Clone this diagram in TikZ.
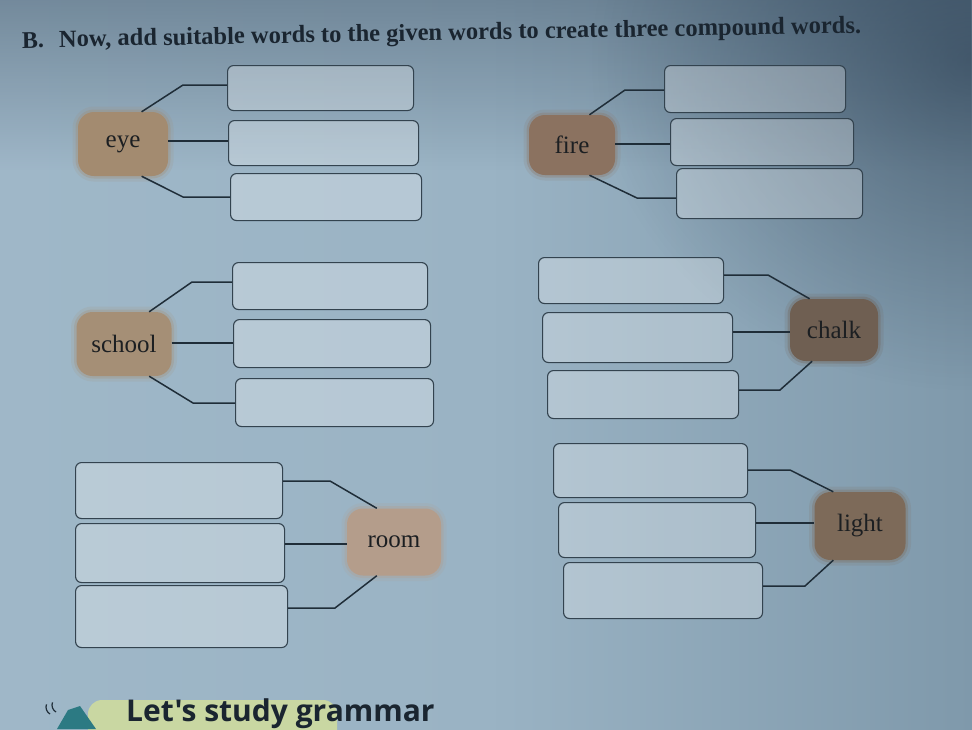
\documentclass[tikz,border=0pt]{standalone}
\usepackage{fontspec}
\setmainfont{Liberation Serif}
\newfontfamily\bannerfont{Open Sans}
\usetikzlibrary{fadings}
\definecolor{linec}{HTML}{1F2D38}
\definecolor{boxline}{HTML}{33434F}
\definecolor{titlec}{HTML}{1A2530}
\definecolor{wordtext}{HTML}{1C1F22}
\definecolor{bgA}{HTML}{A4BCCC}
\definecolor{bgB}{HTML}{9AB3C4}
\definecolor{bgC}{HTML}{7E98AA}
\definecolor{bgD}{HTML}{566F82}
\definecolor{darkc}{HTML}{23364A}
\definecolor{eyec}{HTML}{A38B70}
\definecolor{firec}{HTML}{8B7260}
\definecolor{schoolc}{HTML}{A58F76}
\definecolor{chalkc}{HTML}{6F5F52}
\definecolor{lightc}{HTML}{7D6A59}
\definecolor{roomc}{HTML}{B49D8B}
\definecolor{bannerc}{HTML}{C9D7A2}
\definecolor{tealc}{HTML}{2C7A83}
\pgfdeclarehorizontalshading{bgh}{100bp}{color(0bp)=(bgA); color(50bp)=(bgB); color(76bp)=(bgC); color(100bp)=(bgD)}
\tikzfading[name=softc, inner color=transparent!0, outer color=transparent!100]
\tikzfading[name=fadetop, top color=transparent!0, bottom color=transparent!100]
\begin{document}
\begin{tikzpicture}[x=1pt,y=-1pt,
  box/.style={draw=boxline, line width=1.1pt, rounded corners=6pt, fill=white, fill opacity=0.28, anchor=north west, inner sep=0pt},
  word/.style={fill=#1, rounded corners=16pt, inner sep=0pt, text=wordtext, text opacity=1, font=\fontsize{25}{28}\selectfont,
    preaction={draw=#1, draw opacity=0.15, line width=11pt},
    preaction={draw=#1, draw opacity=0.3, line width=5pt}},
  conn/.style={draw=linec, line width=1.5pt}]
\useasboundingbox (0,0) rectangle (972,729);
\clip (0,0) rectangle (972,729);
% background
\shade[shading=bgh] (0,0) rectangle (972,729);
\fill[darkc, fill opacity=0.35, path fading=fadetop] (0,0) rectangle (972,170);
\fill[darkc, fill opacity=0.55, path fading=softc] (972,60) ellipse [x radius=380, y radius=330];
% title
\node[anchor=base west, rotate=1, inner sep=0pt, text=titlec, font=\fontsize{24}{28}\selectfont\bfseries] (lbl) at (22,48) {B.};
\node[anchor=base west, rotate=1, inner sep=0pt, text=titlec, font=\fontsize{24.5}{28}\selectfont\bfseries] (title) at (59,47) {Now, add suitable words to the given words to create three compound words.};
% eye
\node[box, minimum width=186pt, minimum height=45pt] (e1) at (227,65) {};
\node[box, minimum width=190pt, minimum height=45pt] (e2) at (228,120) {};
\node[box, minimum width=191pt, minimum height=47pt] (e3) at (230,173) {};
\node[word=eyec, minimum width=90pt, minimum height=64pt] (eye) at (123,144) {eye};
\draw[conn] (eye.60) -- (183,85) -- (e1.west |- 0,85);
\draw[conn] (eye.east |- 0,141) -- (e2.west |- 0,141);
\draw[conn] (eye.-60) -- (183,197) -- (e3.west |- 0,197);
% fire
\node[box, minimum width=181pt, minimum height=47pt] (f1) at (664,65) {};
\node[box, minimum width=183pt, minimum height=47pt] (f2) at (670,118) {};
\node[box, minimum width=186pt, minimum height=50pt] (f3) at (676,168) {};
\node[word=firec, minimum width=86pt, minimum height=60pt] (fire) at (572,145) {fire};
\draw[conn] (fire.60) -- (625,90) -- (f1.west |- 0,90);
\draw[conn] (fire.east |- 0,144) -- (f2.west |- 0,144);
\draw[conn] (fire.-60) -- (637,198) -- (f3.west |- 0,198);
% school
\node[box, minimum width=195pt, minimum height=47pt] (s1) at (232,262) {};
\node[box, minimum width=197pt, minimum height=48pt] (s2) at (233,319) {};
\node[box, minimum width=198pt, minimum height=48pt] (s3) at (235,378) {};
\node[word=schoolc, minimum width=95pt, minimum height=64pt] (school) at (124,344) {school};
\draw[conn] (school.52) -- (192,282) -- (s1.west |- 0,282);
\draw[conn] (school.east |- 0,343) -- (s2.west |- 0,343);
\draw[conn] (school.-52) -- (193,403) -- (s3.west |- 0,403);
% chalk
\node[box, minimum width=185pt, minimum height=46pt] (c1) at (538,257) {};
\node[box, minimum width=190pt, minimum height=50pt] (c2) at (542,312) {};
\node[box, minimum width=191pt, minimum height=48pt] (c3) at (547,370) {};
\node[word=chalkc, minimum width=88pt, minimum height=62pt] (chalk) at (834,330) {chalk};
\draw[conn] (c1.east |- 0,275) -- (768,275) -- (chalk.128);
\draw[conn] (c2.east |- 0,332) -- (chalk.west |- 0,332);
\draw[conn] (c3.east |- 0,390) -- (780,390) -- (chalk.-125);
% light
\node[box, minimum width=194pt, minimum height=54pt] (l1) at (553,443) {};
\node[box, minimum width=197pt, minimum height=55pt] (l2) at (558,502) {};
\node[box, minimum width=199pt, minimum height=56pt] (l3) at (563,562) {};
\node[word=lightc, minimum width=91pt, minimum height=68pt] (light) at (860,526) {light};
\draw[conn] (l1.east |- 0,470) -- (790,470) -- (light.128);
\draw[conn] (l2.east |- 0,523) -- (light.west |- 0,523);
\draw[conn] (l3.east |- 0,586) -- (805,586) -- (light.-128);
% room
\node[box, minimum width=207pt, minimum height=56pt] (r1) at (75,462) {};
\node[box, minimum width=209pt, minimum height=59pt] (r2) at (75,523) {};
\node[box, minimum width=212pt, minimum height=62pt] (r3) at (75,585) {};
\node[word=roomc, minimum width=94pt, minimum height=67pt] (room) at (394,542) {room};
\draw[conn] (r1.east |- 0,481) -- (330,481) -- (room.117);
\draw[conn] (r2.east |- 0,544) -- (room.west |- 0,544);
\draw[conn] (r3.east |- 0,608) -- (335,608) -- (room.-117);
% bottom banner
\fill[bannerc, rounded corners=14pt] (88,700) rectangle (337,760);
\fill[tealc] (57,729) -- (68,710) -- (80,706) -- (96,729) -- cycle;
\draw[linec, line width=1.2pt] (50,714) arc[start angle=120, end angle=200, radius=8];
\draw[linec, line width=1.2pt] (56,712) arc[start angle=120, end angle=200, radius=8];
\node[anchor=base west, inner sep=0pt, text=titlec, font=\bannerfont\fontsize{30}{34}\selectfont\bfseries] (banner) at (126,721) {Let's study grammar};
\end{tikzpicture}
\end{document}
